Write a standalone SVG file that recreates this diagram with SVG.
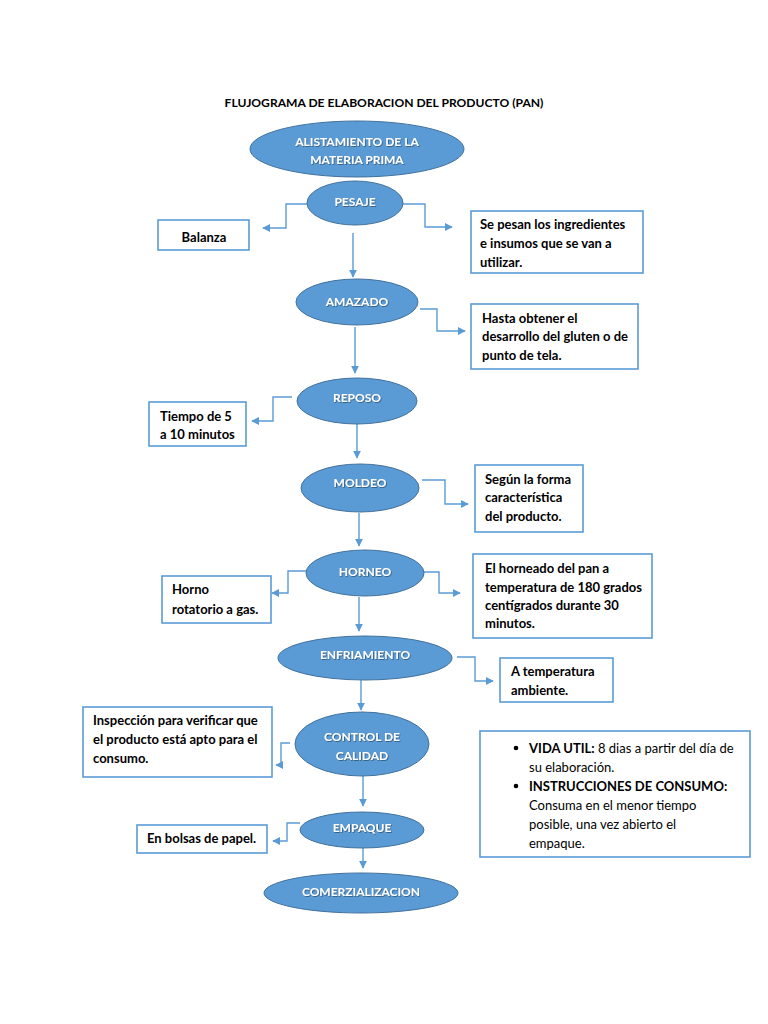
<svg xmlns="http://www.w3.org/2000/svg" width="768" height="1024" viewBox="0 0 768 1024">
<defs>
<marker id="arr" viewBox="0 0 10 10" refX="9" refY="5" markerWidth="8" markerHeight="8" markerUnits="userSpaceOnUse" orient="auto">
<path d="M0,0 L10,5 L0,10 z" fill="#5B9BD5"/>
</marker>
<filter id="sh" x="-10%" y="-30%" width="120%" height="160%">
<feDropShadow dx="0.8" dy="0.8" stdDeviation="0.5" flood-color="#000" flood-opacity="0.45"/>
</filter>
</defs>
<style>
text{font-family:Lato,"Liberation Sans",sans-serif;}
.title{font-size:12.1px;font-weight:bold;fill:#000;}
.el{fill:#5B9BD5;stroke:#41719C;stroke-width:1;}
.et{font-size:12px;font-weight:bold;fill:#fff;text-anchor:middle;filter:url(#sh);}
.bx{fill:#fff;stroke:#5B9BD5;stroke-width:1.6;}
.bt{font-size:13px;font-weight:bold;fill:#000;}
.rt{font-size:13px;font-weight:normal;fill:#000;}
.cn{fill:none;stroke:#5B9BD5;stroke-width:1.4;marker-end:url(#arr);}
</style>
<rect width="768" height="1024" fill="#fff"/>
<text class="title" x="384" y="107" text-anchor="middle">FLUJOGRAMA DE ELABORACION DEL PRODUCTO (PAN)</text>

<g id="connectors">
<path class="cn" d="M307,204 H286 V228 H263"/>
<path class="cn" d="M403,204 H425 V227 H452"/>
<path class="cn" d="M353,233 V277"/>
<path class="cn" d="M420,309 H437 V331 H465"/>
<path class="cn" d="M355,327 V373"/>
<path class="cn" d="M292,397 H273 V421 H252"/>
<path class="cn" d="M357,424 V458"/>
<path class="cn" d="M422,480 H445 V504 H468"/>
<path class="cn" d="M359,513 V546"/>
<path class="cn" d="M306,571 H288 V593 H272"/>
<path class="cn" d="M424,572 H439 V593 H460"/>
<path class="cn" d="M359,597 V631"/>
<path class="cn" d="M457,657 H475 V681 H493"/>
<path class="cn" d="M361,680 V710"/>
<path class="cn" d="M290,743 H281 V765 H276"/>
<path class="cn" d="M363,775 V806"/>
<path class="cn" d="M300,823 H287 V841 H273"/>
<path class="cn" d="M363,847 V868"/>
</g>

<g id="alistamiento">
<ellipse class="el" cx="357" cy="149" rx="107" ry="28"/>
<text class="et" x="357" y="146">ALISTAMIENTO DE LA</text>
<text class="et" x="357" y="164">MATERIA PRIMA</text>
</g>
<g id="pesaje">
<ellipse class="el" cx="355" cy="203" rx="48" ry="22"/>
<text class="et" x="355" y="206">PESAJE</text>
</g>
<g id="amazado">
<ellipse class="el" cx="357" cy="302" rx="61" ry="23"/>
<text class="et" x="357" y="306">AMAZADO</text>
</g>
<g id="reposo">
<ellipse class="el" cx="357" cy="401" rx="60" ry="23"/>
<text class="et" x="357" y="402">REPOSO</text>
</g>
<g id="moldeo">
<ellipse class="el" cx="360" cy="488" rx="59" ry="24"/>
<text class="et" x="360" y="487">MOLDEO</text>
</g>
<g id="horneo">
<ellipse class="el" cx="365" cy="573" rx="59" ry="23"/>
<text class="et" x="365" y="576">HORNEO</text>
</g>
<g id="enfriamiento">
<ellipse class="el" cx="365" cy="658" rx="87" ry="22"/>
<text class="et" x="365" y="659">ENFRIAMIENTO</text>
</g>
<g id="control">
<ellipse class="el" cx="362" cy="744" rx="67" ry="32"/>
<text class="et" x="362" y="741">CONTROL DE</text>
<text class="et" x="362" y="760">CALIDAD</text>
</g>
<g id="empaque">
<ellipse class="el" cx="362" cy="830" rx="62" ry="18"/>
<text class="et" x="362" y="832">EMPAQUE</text>
</g>
<g id="comerzializacion">
<ellipse class="el" cx="361" cy="893" rx="97" ry="20"/>
<text class="et" x="361" y="896">COMERZIALIZACION</text>
</g>

<g id="balanza">
<rect class="bx" x="158" y="220" width="91" height="30"/>
<text class="bt" x="204" y="242" text-anchor="middle">Balanza</text>
</g>
<g id="nota-pesaje">
<rect class="bx" x="471" y="211" width="172" height="62"/>
<text class="bt" x="480" y="229">Se pesan los ingredientes</text>
<text class="bt" x="480" y="248">e insumos que se van a</text>
<text class="bt" x="480" y="267">utilizar.</text>
</g>
<g id="nota-amazado">
<rect class="bx" x="471" y="304" width="167" height="65"/>
<text class="bt" x="482" y="323">Hasta obtener el</text>
<text class="bt" x="482" y="341">desarrollo del gluten o de</text>
<text class="bt" x="482" y="360">punto de tela.</text>
</g>
<g id="nota-reposo">
<rect class="bx" x="149" y="402" width="97" height="44"/>
<text class="bt" x="160" y="421">Tiempo de 5</text>
<text class="bt" x="160" y="439">a 10 minutos</text>
</g>
<g id="nota-moldeo">
<rect class="bx" x="475" y="465" width="108" height="67"/>
<text class="bt" x="485" y="484">Según la forma</text>
<text class="bt" x="485" y="502">característica</text>
<text class="bt" x="485" y="521">del producto.</text>
</g>
<g id="nota-horno">
<rect class="bx" x="162" y="576" width="109" height="47"/>
<text class="bt" x="172" y="594">Horno</text>
<text class="bt" x="172" y="614">rotatorio a gas.</text>
</g>
<g id="nota-horneo">
<rect class="bx" x="473" y="554" width="179" height="84"/>
<text class="bt" x="485" y="573">El horneado del pan a</text>
<text class="bt" x="485" y="592">temperatura de 180 grados</text>
<text class="bt" x="485" y="610">centígrados durante 30</text>
<text class="bt" x="485" y="628">minutos.</text>
</g>
<g id="nota-enfriamiento">
<rect class="bx" x="500" y="658" width="113" height="44"/>
<text class="bt" x="511" y="676">A temperatura</text>
<text class="bt" x="511" y="695">ambiente.</text>
</g>
<g id="nota-control">
<rect class="bx" x="83" y="707" width="189" height="70"/>
<text class="bt" x="93" y="725">Inspección para verificar que</text>
<text class="bt" x="93" y="744">el producto está apto para el</text>
<text class="bt" x="93" y="763">consumo.</text>
</g>
<g id="nota-empaque">
<rect class="bx" x="137" y="825" width="130" height="28"/>
<text class="bt" x="147" y="843">En bolsas de papel.</text>
</g>
<g id="vida-util">
<rect class="bx" x="480" y="731" width="270" height="126"/>
<circle cx="516" cy="748" r="2.3" fill="#000"/>
<circle cx="516" cy="786" r="2.3" fill="#000"/>
<text class="rt" x="529" y="753"><tspan font-weight="bold">VIDA UTIL:</tspan> 8 dias a partir del día de</text>
<text class="rt" x="529" y="772">su elaboración.</text>
<text class="rt" x="529" y="791"><tspan font-weight="bold">INSTRUCCIONES DE CONSUMO:</tspan></text>
<text class="rt" x="529" y="810">Consuma en el menor tiempo</text>
<text class="rt" x="529" y="829">posible, una vez abierto el</text>
<text class="rt" x="529" y="848">empaque.</text>
</g>
</svg>
